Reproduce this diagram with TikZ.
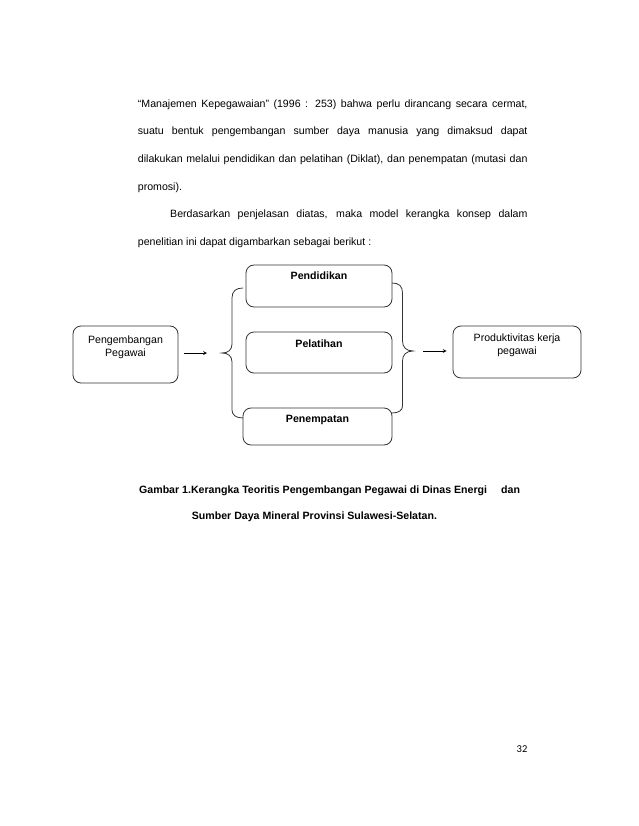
\documentclass[tikz,border=0pt]{standalone}
\usepackage{fontspec}
\setmainfont{Liberation Sans}
\newfontfamily\numfont{Carlito}
\usetikzlibrary{positioning}
\newlength{\parw}
\setlength{\parw}{389.6pt}
\newcommand{\fullline}[2][\parw]{\makebox[#1][s]{#2}}
\begin{document}
\begin{tikzpicture}[>=stealth,x=1pt,y=1pt,
  txt/.style={anchor=base west,inner sep=0pt,font=\fontsize{10.6}{13}\selectfont},
  capt/.style={txt,font=\fontsize{10.6}{13}\selectfont\bfseries},
  box/.style={draw=black!80,line width=0.8pt,rounded corners=8pt},
  lbl/.style={inner sep=0pt,align=center,font=\fontsize{10.6}{13}\selectfont},
  blbl/.style={lbl,font=\fontsize{10.6}{13}\selectfont\bfseries},
  brace/.style={draw=black!80,line width=0.8pt},
  flow/.style={->,line width=0.7pt}]
  \useasboundingbox (0,0) rectangle (638,-826);
  % text above the figure
  \node[txt] (l1) at (137.7,-107.5) {\fullline{“Manajemen Kepegawaian” (1996 : 253) bahwa perlu dirancang secara cermat,}};
  \node[txt] (l2) at (137.7,-135) {\fullline{suatu bentuk pengembangan sumber daya manusia yang dimaksud dapat}};
  \node[txt] (l3) at (137.7,-162.7) {\fullline{dilakukan melalui pendidikan dan pelatihan (Diklat), dan penempatan (mutasi dan}};
  \node[txt] (l4) at (137.7,-190.3) {promosi).};
  \node[txt] (l5) at (170,-218) {\fullline[357.3pt]{Berdasarkan penjelasan diatas, maka model kerangka konsep dalam}};
  \node[txt] (l6) at (137.7,-245.5) {penelitian ini dapat digambarkan sebagai berikut :};
  % boxes
  \node[box,minimum width=105pt,minimum height=57pt] (peng) at (125.5,-354.5) {};
  \node[box,minimum width=146pt,minimum height=42pt] (pend) at (319,-286) {};
  \node[box,minimum width=146pt,minimum height=41pt] (pela) at (319,-352.5) {};
  \node[box,minimum width=149pt,minimum height=37pt] (pene) at (317.5,-426.5) {};
  \node[box,minimum width=128pt,minimum height=52pt] (prod) at (517,-352) {};
  \node[lbl,below=10pt of peng.north] (pengtxt) {Pengembangan\\Pegawai};
  \node[blbl,below=7pt of pend.north] (pendtxt) {Pendidikan};
  \node[blbl,below=8pt of pela.north] (pelatxt) {Pelatihan};
  \node[blbl,below=7pt of pene.north] (penetxt) {Penempatan};
  \node[lbl,below=8pt of prod.north] (prodtxt) {Produktivitas kerja\\pegawai};
  % braces
  \coordinate (ltip) at (222,-353);
  \coordinate (rtip) at (413,-351);
  \draw[brace] (243,-288) .. controls (236,-288) and (232,-291) .. (232,-298) -- (232,-344)
    .. controls (232,-350) and (228,-353) .. (ltip) .. controls (228,-353) and (232,-356) .. (232,-362)
    -- (232,-410) .. controls (232,-415) and (236,-418) .. (243,-418);
  \draw[brace] (392,-283) .. controls (399,-283) and (402.5,-286) .. (402.5,-293) -- (402.5,-341)
    .. controls (402.5,-347) and (406,-351) .. (rtip) .. controls (406,-351) and (402.5,-355) .. (402.5,-361)
    -- (402.5,-406) .. controls (402.5,-410) and (399,-413) .. (392,-413);
  \draw[flow,shorten <=6pt,shorten >=15pt] (peng.east |- ltip) -- (ltip);
  \draw[flow,shorten <=10pt,shorten >=6pt] (rtip) -- (prod.west |- rtip);
  % caption
  \node[capt] (cap1) at (139,-493) {Gambar 1.Kerangka Teoritis Pengembangan Pegawai di Dinas Energi\hspace{14pt}dan};
  \node[capt] (cap2) at (191.7,-519) {Sumber Daya Mineral Provinsi Sulawesi-Selatan.};
  \node[anchor=base,inner sep=0pt,font=\numfont\fontsize{10.5}{12}\selectfont] (pnum) at (522,-752.5) {32};
\end{tikzpicture}
\end{document}
